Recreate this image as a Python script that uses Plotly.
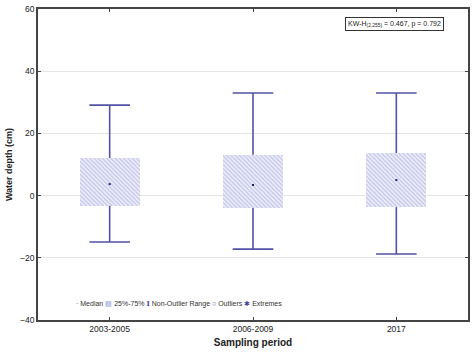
import plotly.graph_objects as go

periods = ["2003-2005", "2006-2009", "2017"]
q1 = [-3.3, -4.0, -3.7]
median = [3.7, 3.4, 5.0]
q3 = [12.1, 13.1, 13.7]
whisker_low = [-14.9, -17.2, -18.8]
whisker_high = [29.1, 33.0, 33.0]
y_ticks = [-40, -20, 0, 20, 40, 60]

hatch = "#9da2dc"
wcol = "#5252a6"
font_family = "Liberation Sans, Arial, sans-serif"

fig = go.Figure()

# 25%-75% boxes
fig.add_trace(go.Bar(
    x=periods, y=[b - a for a, b in zip(q1, q3)], base=q1, width=0.42,
    marker=dict(color="white", line=dict(width=0),
                pattern=dict(shape="\\", fgcolor=hatch, bgcolor="#f2f2fb", size=3, solidity=0.55)),
    showlegend=False, hoverinfo="skip"))

# whiskers
wx, wy = [], []
for p, a, b, lo, hi in zip(periods, q1, q3, whisker_low, whisker_high):
    wx += [p, p, None, p, p, None]
    wy += [b, hi, None, a, lo, None]
fig.add_trace(go.Scatter(x=wx, y=wy, mode="lines", line=dict(color=wcol, width=1.6),
                         showlegend=False, hoverinfo="skip"))
# caps
fig.add_trace(go.Scatter(x=periods + periods, y=whisker_high + whisker_low, mode="markers",
                         marker=dict(symbol="line-ew", size=29, line=dict(color=wcol, width=1.6)),
                         showlegend=False, hoverinfo="skip"))
# medians
fig.add_trace(go.Scatter(x=periods, y=median, mode="markers",
                         marker=dict(symbol="square", size=2, color="#22226e"),
                         showlegend=False))

legend_text = (
    '<span style="color:#444">·</span> Median '
    '<span style="color:#8f94d6">▧</span> 25%-75% '
    '<span style="color:#4444a0;font-family:DejaVu Serif"><b>I</b></span> Non-Outlier Range '
    '<span style="color:#4444a0">○</span> Outliers '
    '<span style="color:#4444a0">✱</span> Extremes'
)

fig.update_layout(
    width=474, height=355,
    margin=dict(l=38, r=6, t=9, b=35, autoexpand=False),
    paper_bgcolor="white", plot_bgcolor="white",
    font=dict(family=font_family, size=8, color="#222"),
    bargap=0,
    xaxis=dict(type="category", range=[-0.5, 2.5], showgrid=False, automargin=False,
               showline=True, linecolor="#444", linewidth=1.5, mirror="ticks",
               ticks="inside", ticklen=3, tickcolor="#444",
               tickfont=dict(size=8.5),
               title=dict(text="<b>Sampling period</b>", font=dict(size=10), standoff=6)),
    yaxis=dict(range=[-40, 60], tickvals=y_ticks, showgrid=True, gridcolor="#e4e4e4", gridwidth=1,
               automargin=False,
               zeroline=False, showline=True, linecolor="#444", linewidth=1.5, mirror="ticks",
               ticks="inside", ticklen=3, tickcolor="#444",
               tickfont=dict(size=8.5),
               title=dict(text="<b>Water depth (cm)</b>", font=dict(size=9), standoff=6)),
    annotations=[
        dict(text="KW-H<sub>(2,255)</sub> = 0.467, p = 0.792", xref="paper", yref="paper",
             x=0.944, y=0.974, xanchor="right", yanchor="top", showarrow=False,
             font=dict(size=7, color="#222"), bordercolor="#333", borderwidth=1,
             borderpad=2, bgcolor="white"),
        dict(text=legend_text, xref="paper", yref="paper", x=0.083, y=0.052,
             xanchor="left", yanchor="middle", showarrow=False,
             font=dict(size=7, color="#333")),
    ],
)

fig.write_html("out.html", config={"displayModeBar": False},
               post_script="document.body.style.margin='0';")
